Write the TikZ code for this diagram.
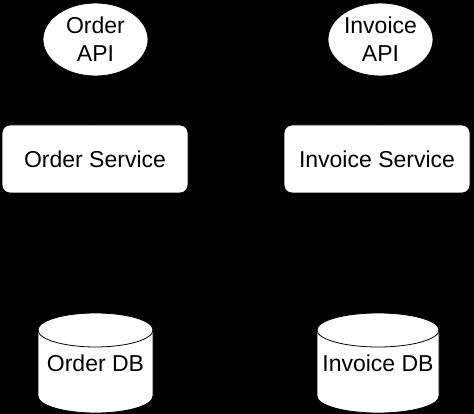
\documentclass[tikz,border=0pt]{standalone}
\usepackage{fontspec}
\setmainfont{Liberation Sans}
\usetikzlibrary{shapes.geometric}

\tikzset{
  api/.style={ellipse, draw=black, fill=white, line width=0.8pt, minimum width=105pt, minimum height=73pt, inner sep=0pt, align=center, font=\fontsize{23}{28}\selectfont},
  service/.style={rectangle, rounded corners=8pt, draw=black, fill=white, line width=0.8pt, minimum width=186pt, minimum height=68pt, font=\fontsize{23}{28}\selectfont},
  store/.style={rectangle, minimum height=102pt, inner sep=0pt, font=\fontsize{23}{28}\selectfont},
  can/.style={fill=white, draw=black, line width=0.8pt},
}

\begin{document}
\begin{tikzpicture}[x=1pt, y=-1pt]

  % Background
  \fill[black] (0,0) rectangle (474,414);

  % Order
  \draw (95.5,39.5) node[api] (orderapi) {Order\\API};
  \draw (95,159) node[service] (ordersvc) {Order Service};
  \draw[can] (38,330) -- (38,396) arc (180:0:57.5 and 17) -- (153,330) arc (0:-180:57.5 and 17) -- cycle;
  \draw[black, line width=0.8pt] (38,330) arc (180:0:57.5 and 17);
  \draw (95.5,363) node[store, minimum width=115pt] (orderdb) {Order DB};

  % Invoice
  \draw (380.5,39.5) node[api] (invoiceapi) {Invoice\\API};
  \draw (377,159) node[service] (invoicesvc) {Invoice Service};
  \draw[can] (317,330) -- (317,396) arc (180:0:61 and 17) -- (439,330) arc (0:-180:61 and 17) -- cycle;
  \draw[black, line width=0.8pt] (317,330) arc (180:0:61 and 17);
  \draw (378,363) node[store, minimum width=122pt] (invoicedb) {Invoice DB};

  % Calls
  \draw[->, black, line width=1pt] (orderapi) -- (ordersvc);
  \draw[->, black, line width=1pt] (ordersvc) -- (orderdb);
  \draw[->, black, line width=1pt] (invoiceapi) -- (invoicesvc);
  \draw[->, black, line width=1pt] (invoicesvc) -- (invoicedb);

\end{tikzpicture}
\end{document}
